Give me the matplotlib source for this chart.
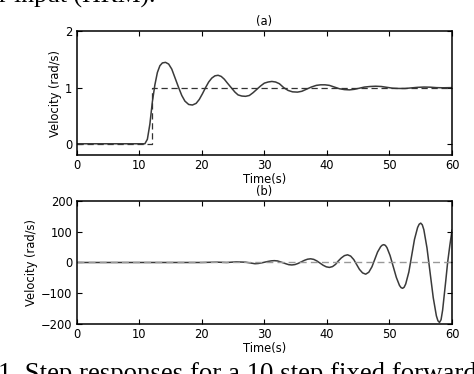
import numpy as np
import matplotlib
matplotlib.use('Agg')
import matplotlib.pyplot as plt

g_figure_size = (4.74, 3.74) # Inches
g_dpi = 100
g_font = 'DejaVu Sans'
g_font_size = 8.3

# (a) step response, stable
a_time = [0, 10.9, 11.3, 11.7, 12.1, 12.5, 12.9, 13.3, 13.7, 14.2, 14.7, 15.2,
          15.7, 16.3, 16.8, 17.3, 17.9, 18.5, 19.1, 19.6, 20.1, 20.6, 21.1, 21.6,
          22.1, 22.6, 23.1, 23.6, 24.1, 24.7, 25.3, 25.8, 26.4, 27.0, 27.6, 28.2,
          28.9, 29.4, 30.0, 30.6, 31.2, 31.8, 32.4, 33.1, 33.8, 34.5, 35.3, 36.0,
          36.7, 37.5, 38.3, 39.0, 39.7, 40.4, 41.2, 42.0, 42.8, 43.6, 44.4, 45.2,
          46.0, 46.9, 47.8, 48.7, 49.6, 50.5, 51.5, 52.5, 53.5, 54.5, 55.5, 56.5,
          57.5, 58.5, 60.0]
a_vel = [0, 0, 0.08, 0.35, 0.75, 1.05, 1.27, 1.39, 1.44, 1.45, 1.42, 1.33,
         1.18, 1.0, 0.86, 0.76, 0.70, 0.69, 0.72, 0.79, 0.89, 1.0, 1.10, 1.17,
         1.21, 1.22, 1.20, 1.15, 1.08, 1.0, 0.92, 0.87, 0.85, 0.845, 0.86, 0.91,
         0.98, 1.03, 1.08, 1.10, 1.11, 1.10, 1.07, 1.0, 0.95, 0.925, 0.92, 0.935,
         0.97, 1.01, 1.04, 1.05, 1.05, 1.04, 1.01, 0.98, 0.965, 0.96, 0.97, 0.99,
         1.01, 1.02, 1.025, 1.02, 1.005, 0.99, 0.985, 0.985, 0.995, 1.005, 1.01, 1.008,
         1.0, 0.997, 1.0]

# (b) step response, unstable
b_time = [0, 20, 21, 22.5, 24, 25.5, 27, 28.5, 29.0, 29.5, 30.05, 30.6, 31.1,
          31.6, 32.1, 32.5, 33.0, 33.5, 33.9, 34.4, 34.9, 35.4, 35.9, 36.4, 36.9,
          37.4, 37.9, 38.4, 38.9, 39.4, 39.9, 40.4, 40.9, 41.4, 41.8, 42.3, 42.8,
          43.3, 43.8, 44.3, 44.75, 45.2, 45.7, 46.2, 46.7, 47.2, 47.65, 48.1, 48.6,
          48.85, 49.1, 49.35, 49.6, 50.1, 50.6, 51.1, 51.6, 51.85, 52.1, 52.35, 52.6,
          53.1, 53.55, 54.0, 54.5, 54.75, 55.0, 55.25, 55.5, 56.0, 56.5, 57.0, 57.5,
          57.75, 58.0, 58.25, 58.5, 59.0, 59.3, 59.65, 60.0]
b_vel = [0, 0, 0.5, 1, 0, 2, 1, -4, -3.3, -1.5, 1, 3.5, 5.3,
         6, 5.1, 2.5, -1, -4.5, -7.1, -8, -6.7, -3, 2, 7, 10.7,
         12, 10.1, 5, -2, -9, -14.1, -16, -13.3, -5.8, 4.5, 14.8, 22.3,
         25, 20.8, 9.3, -6.5, -22.3, -33.8, -38, -31.6, -14, 10, 34, 51.6,
         56.4, 58, 55.6, 48.5, 22.5, -13, -48.5, -74.5, -81.6, -84, -80.4, -69.8,
         -31, 22, 75, 113.8, 124.4, 128, 122.5, 106.4, 47.3, -33.5, -114.3, -173.4,
         -189.5, -195, -186, -155, -60, 0, 55, 105]

# reference step command
ref_time = [0, 12, 12, 60]
ref_vel = [0, 0, 1, 1]

x_ticks = [0, 10, 20, 30, 40, 50, 60]
a_yticks = [0, 1, 2]
b_yticks = [-200, -100, 0, 100, 200]


def style(ax, title, yticks, ylim, title_pad):
    ax.set_xlim(0, 60)
    ax.set_ylim(*ylim)
    ax.set_xticks(x_ticks)
    ax.set_yticks(yticks)
    ax.tick_params(direction='in', length=3.5, width=0.8, top=True, right=True,
                   labelsize=g_font_size, pad=3)
    for s in ax.spines.values():
        s.set_linewidth(1.1)
    ax.set_title(title, fontsize=g_font_size, pad=title_pad)
    ax.set_xlabel('Time(s)', fontsize=g_font_size, labelpad=0.5)
    ax.set_ylabel('Velocity (rad/s)', fontsize=g_font_size, labelpad=2.5)


plt.rcParams['font.family'] = [g_font]
fig = plt.figure(figsize=g_figure_size, dpi=g_dpi)

ax1 = fig.add_axes([0.1618, 0.5856, 0.7918, 0.3302])
ax1.plot(a_time, a_vel, color='#3a3a3a', lw=1.1)
ax1.plot(ref_time, ref_vel, color='#333333', lw=0.9, ls=(0, (5, 3)))
style(ax1, '(a)', a_yticks, (-0.2, 2), 4.5)

ax2 = fig.add_axes([0.1618, 0.1337, 0.7918, 0.3289])
ax2.plot(b_time, b_vel, color='#3a3a3a', lw=1.1)
ax2.plot(ref_time, ref_vel, color='#999999', lw=1.0, ls=(0, (5, 3)))
style(ax2, '(b)', b_yticks, (-200, 200), 4.5)

# caption fragments cut by the crop
fig.text(-0.002, 1 - 3 / 374, 'r input (HRM).', family='Liberation Serif',
         fontsize=18.5, va='baseline', ha='left')
fig.text(-0.004, 1 - 381 / 374, '1. Step responses for a 10 step fixed forward',
         family='Liberation Serif', fontsize=19.3, va='baseline', ha='left')

fig.savefig('out.png', dpi=g_dpi)
